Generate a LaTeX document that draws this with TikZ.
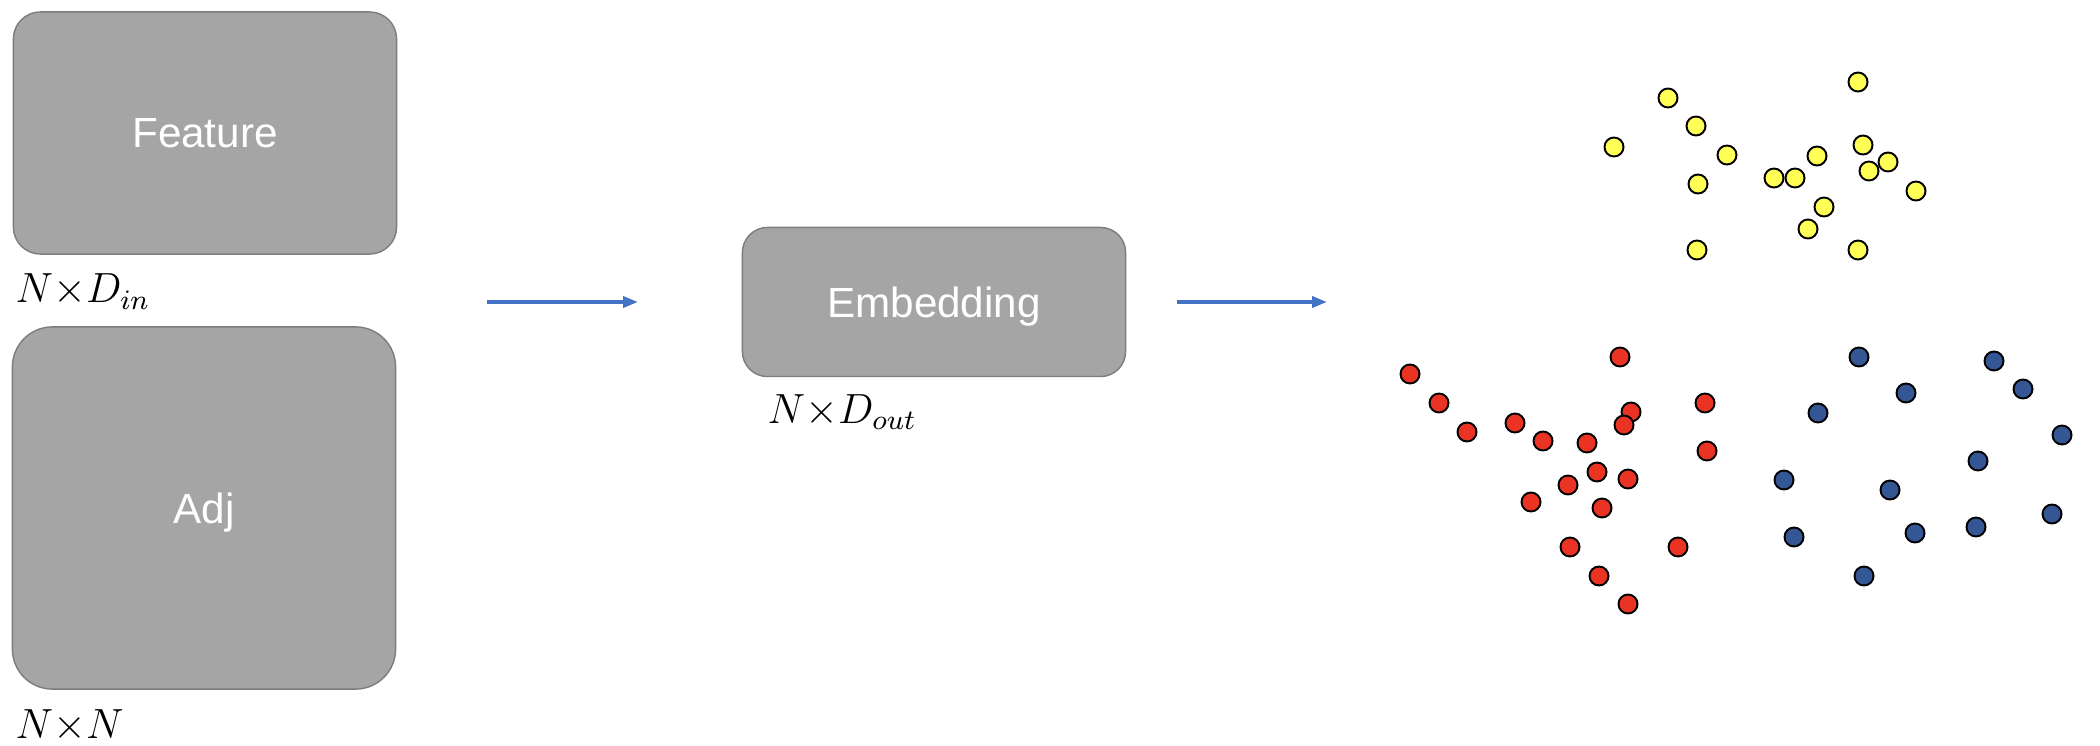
\documentclass[tikz,border=0pt]{standalone}
\usepackage{fontspec}
\setmainfont{Liberation Sans}
\usepackage{tikz}
\usetikzlibrary{arrows.meta}
\usepackage{amsmath}
\definecolor{boxfill}{RGB}{165,165,165}
\definecolor{boxline}{RGB}{125,125,125}
\definecolor{flow}{RGB}{68,114,196}
\definecolor{ycls}{RGB}{255,255,85}
\definecolor{rcls}{RGB}{234,51,35}
\definecolor{bcls}{RGB}{53,86,148}

\tikzset{
  block/.style={draw=boxline,fill=boxfill,line width=0.4pt,text=white,
    font=\fontsize{12}{14}\selectfont,inner sep=0pt,text depth=0pt},
  dims/.style={anchor=base west,inner sep=0pt,font=\fontsize{12}{14}\selectfont},
  flowarrow/.style={draw=flow,line width=1pt,-{Triangle[length=1.5mm,width=1.1mm]}},
  pt/.style={circle,draw=black,line width=0.55pt,minimum size=1.9mm,inner sep=0pt}
}

\begin{document}
\begin{tikzpicture}[x=0.01cm,y=-0.01cm]
\useasboundingbox (0,0) rectangle (2100,746);

% input blocks
\node[block,rounded corners=2.7mm,minimum width=3.83cm,minimum height=2.42cm] (feat) at (205,133) {Feature};
\node[block,rounded corners=4mm,minimum width=3.83cm,minimum height=3.62cm] (adj) at (204,508) {Adj};
\node[dims] (featdim) at (15,303) {$N{\times}D_{in}$};
\node[dims] (adjdim) at (15,738) {$N{\times}N$};

% embedding
\node[block,rounded corners=2.5mm,minimum width=3.83cm,minimum height=1.49cm] (emb) at (934,302) {Embedding};
\node[dims] (embdim) at (767,423) {$N{\times}D_{out}$};

% arrows
\coordinate (a1s) at (487,302);
\coordinate (a1e) at (638,302);
\coordinate (a2s) at (1177,302);
\coordinate (a2e) at (1327,302);
\draw[flowarrow] (a1s) -- (a1e);
\draw[flowarrow] (a2s) -- (a2e);

% clusters
\foreach \x/\y [count=\i] in {1858/82,1668/98,1696/126,1614/147,1727/155,1817/156,
  1863/145,1888/162,1869/171,1774/178,1795/178,1698/184,1916/191,1824/207,
  1808/229,1697/250,1858/250}
  \node[pt,fill=ycls] (y\i) at (\x,\y) {};
\foreach \x/\y [count=\i] in {1620/357,1410/374,1439/403,1705/403,1631/412,1624/425,
  1467/432,1515/423,1543/441,1587/443,1707/451,1597/472,1628/479,1568/485,
  1531/502,1602/508,1570/547,1678/547,1599/576,1628/604}
  \node[pt,fill=rcls] (r\i) at (\x,\y) {};
\foreach \x/\y [count=\i] in {1859/357,1994/361,1906/393,2023/389,1818/413,2062/435,
  1978/461,1784/480,1890/490,2052/514,1794/537,1915/533,1976/527,1864/576}
  \node[pt,fill=bcls] (b\i) at (\x,\y) {};
\end{tikzpicture}
\end{document}
